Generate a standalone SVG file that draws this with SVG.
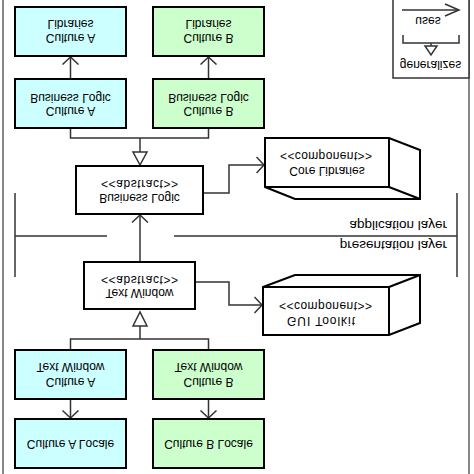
<svg xmlns="http://www.w3.org/2000/svg" width="474" height="474" viewBox="0 0 474 474">
<style>
.box{stroke:#000;stroke-width:2}
.a{fill:#ccffff}
.b{fill:#ccffcc}
.w{fill:#fff}
.t{font-family:"Liberation Sans",Arial,sans-serif;font-size:12px;fill:#000;text-anchor:middle}
.lt{font-family:"Liberation Sans",Arial,sans-serif;font-size:13.5px;fill:#000;text-anchor:end}
.gt{font-family:"Liberation Sans",Arial,sans-serif;font-size:12px;fill:#000;text-anchor:middle}
.c{fill:none;stroke:#333;stroke-width:1.5}
.tri{fill:#fff;stroke:#333;stroke-width:1.5}
.frame{stroke:#888;stroke-width:2;fill:none}
</style>
<defs>
<marker id="open" markerUnits="userSpaceOnUse" markerWidth="10" markerHeight="18" viewBox="0 0 10 18" refX="8" refY="9" orient="auto">
<path d="M0.5,1 L8,9 L0.5,17" fill="none" stroke="#333" stroke-width="1.5"/>
</marker>
</defs>
<rect width="474" height="474" fill="#fff"/>
<line class="frame" x1="3" y1="0" x2="3" y2="474"/>
<line class="frame" x1="469" y1="0" x2="469" y2="474"/>

<g id="legend">
<rect x="393" y="-2" width="76" height="80" fill="#fff" stroke="#333" stroke-width="1.5"/>
<line class="c" x1="402" y1="10" x2="458" y2="10"/>
<polyline class="c" points="445,4 459,10 445,16"/>
<text class="gt" transform="matrix(1 0 0 -1 428 17)">uses</text>
<polyline class="c" points="403,35 403,43 459,43 459,35"/>
<line class="c" x1="431" y1="43" x2="431" y2="46"/>
<polygon class="tri" points="425,46 437,46 431,55"/>
<text class="gt" transform="matrix(1 0 0 -1 430.5 60.5)">generalizes</text>
</g>

<g id="layers">
<line class="c" x1="15" y1="236" x2="107" y2="236"/>
<line class="c" x1="174" y1="236" x2="457" y2="236"/>
<line class="c" x1="15" y1="193" x2="15" y2="277"/>
<line class="c" x1="457" y1="193" x2="457" y2="277"/>
<text class="lt" transform="matrix(1 0 0 -1 447 221)">application layer</text>
<text class="lt" transform="matrix(1 0 0 -1 447 241)">presentation layer</text>
</g>

<g id="connectors">
<line class="c" x1="70.5" y1="79" x2="70.5" y2="57" marker-end="url(#open)"/>
<line class="c" x1="208.5" y1="79" x2="208.5" y2="57" marker-end="url(#open)"/>
<polyline class="c" points="70.5,128 70.5,138 208.5,138 208.5,128"/>
<line class="c" x1="140" y1="138" x2="140" y2="152"/>
<polygon class="tri" points="133,152 147,152 140,165"/>
<polyline class="c" points="203,193 229,193 229,165 264,165" marker-end="url(#open)"/>
<line class="c" x1="140" y1="262" x2="140" y2="215" marker-end="url(#open)"/>
<polyline class="c" points="195,282 229,282 229,305 262,305" marker-end="url(#open)"/>
<polygon class="tri" points="133,326 147,326 140,312"/>
<line class="c" x1="140" y1="326" x2="140" y2="339"/>
<polyline class="c" points="70.5,350 70.5,339 208.5,339 208.5,350"/>
<line class="c" x1="70.5" y1="399" x2="70.5" y2="418" marker-end="url(#open)"/>
<line class="c" x1="208.5" y1="399" x2="208.5" y2="418" marker-end="url(#open)"/>
</g>

<g id="libA">
<rect class="box a" x="15" y="7" width="111" height="49"/>
<text class="t" transform="matrix(1 0 0 -1 70.5 19.5)">Libraries</text>
<text class="t" transform="matrix(1 0 0 -1 70.5 34)">Culture A</text>
</g>
<g id="libB">
<rect class="box b" x="153" y="7" width="111" height="49"/>
<text class="t" transform="matrix(1 0 0 -1 208.5 19.5)">Libraries</text>
<text class="t" transform="matrix(1 0 0 -1 208.5 34)">Culture B</text>
</g>
<g id="blA">
<rect class="box a" x="15" y="79" width="111" height="49"/>
<text class="t" transform="matrix(1 0 0 -1 70.5 94)">Business Logic</text>
<text class="t" transform="matrix(1 0 0 -1 70.5 107)">Culture A</text>
</g>
<g id="blB">
<rect class="box b" x="153" y="79" width="111" height="49"/>
<text class="t" transform="matrix(1 0 0 -1 208.5 94)">Business Logic</text>
<text class="t" transform="matrix(1 0 0 -1 208.5 107)">Culture B</text>
</g>
<g id="blAbstract">
<rect class="box w" x="76" y="166" width="127" height="48"/>
<text class="t" transform="matrix(1 0 0 -1 139.5 180)" textLength="77" lengthAdjust="spacing">&lt;&lt;abstract&gt;&gt;</text>
<text class="t" transform="matrix(1 0 0 -1 139.5 194)">Business Logic</text>
</g>
<g id="coreLib">
<polygon class="box w" points="265,138 389,138 420,150 420,199 295,199 265,187"/>
<polyline class="box" fill="none" points="265,187 389,187 389,138"/>
<line class="box" x1="389" y1="187" x2="420" y2="199"/>
<text class="t" transform="matrix(1 0 0 -1 326 152)" textLength="92" lengthAdjust="spacing">&lt;&lt;component&gt;&gt;</text>
<text class="t" transform="matrix(1 0 0 -1 327 167)">Core Libraries</text>
</g>
<g id="twAbstract">
<rect class="box w" x="84" y="262" width="111" height="47"/>
<text class="t" transform="matrix(1 0 0 -1 139.5 275.5)" textLength="77" lengthAdjust="spacing">&lt;&lt;abstract&gt;&gt;</text>
<text class="t" transform="matrix(1 0 0 -1 139.5 289)">Text Window</text>
</g>
<g id="gui">
<polygon class="box w" points="295,275 420,275 420,323 389,335 263,335 263,287"/>
<polyline class="box" fill="none" points="263,287 389,287 389,335"/>
<line class="box" x1="389" y1="287" x2="420" y2="275"/>
<text class="t" transform="matrix(1 0 0 -1 325.5 301.5)" textLength="93" lengthAdjust="spacing">&lt;&lt;component&gt;&gt;</text>
<text class="t" transform="matrix(1 0 0 -1 321 317)" textLength="68" lengthAdjust="spacing">GUI Toolkit</text>
</g>
<g id="twA">
<rect class="box a" x="15" y="350" width="111" height="49"/>
<text class="t" transform="matrix(1 0 0 -1 70.5 363)">Text Window</text>
<text class="t" transform="matrix(1 0 0 -1 70.5 378)">Culture A</text>
</g>
<g id="twB">
<rect class="box b" x="153" y="350" width="111" height="49"/>
<text class="t" transform="matrix(1 0 0 -1 208.5 363)">Text Window</text>
<text class="t" transform="matrix(1 0 0 -1 208.5 378)">Culture B</text>
</g>
<g id="locA">
<rect class="box a" x="15" y="419" width="111" height="49"/>
<text class="t" transform="matrix(1 0 0 -1 70.5 440)">Culture A Locale</text>
</g>
<g id="locB">
<rect class="box b" x="153" y="419" width="111" height="49"/>
<text class="t" transform="matrix(1 0 0 -1 208.5 440)">Culture B Locale</text>
</g>
</svg>
